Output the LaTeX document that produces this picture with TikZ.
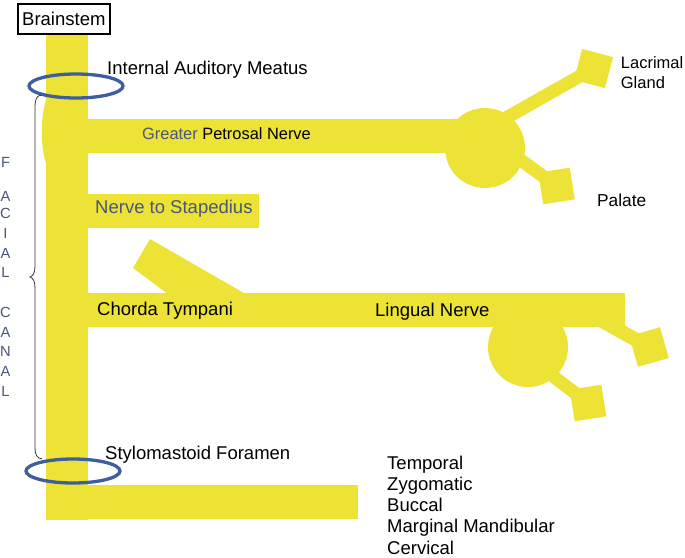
\documentclass[tikz,border=0pt]{standalone}
\usepackage{fontspec}
\setmainfont{Liberation Sans}
\definecolor{nerve}{HTML}{ECE336}
\definecolor{ring}{HTML}{3E5EA0}
\definecolor{slate}{HTML}{4A5677}
\begin{document}
\begin{tikzpicture}[x=1pt,y=-1pt,
  lbl/.style={anchor=base west,inner sep=0pt,font=\fontsize{18.5}{20}\selectfont},
  smalllbl/.style={anchor=base west,inner sep=0pt,font=\fontsize{16.4}{18}\selectfont},
  letter/.style={anchor=base,inner sep=0pt,text=slate,font=\fontsize{14.7}{16}\selectfont},
  gland/.style={rectangle,fill=nerve,draw=none,minimum size=32pt,inner sep=0pt},
  ganglion/.style={circle,fill=nerve,draw=none,minimum size=80pt,inner sep=0pt},
  twig/.style={draw=nerve,line width=13pt},
  foramen/.style={draw=ring,line width=3.3pt}]
\useasboundingbox (0,0) rectangle (685,557);
% trunk and bars
\fill[nerve] (46,34) rectangle (88,520);
\fill[nerve] (47,98) .. controls (40,115) and (40,148) .. (47,166) -- cycle;
\fill[nerve] (86,119) rectangle (486,153);
\fill[nerve] (86,194) rectangle (259,228);
\fill[nerve] (86,293) rectangle (625,327);
\fill[nerve] (86,485) rectangle (358,519);
\fill[nerve] (133,268) -- (150,239) -- (256,300) -- (176,300) -- cycle;
% ganglia and glands
\node[ganglion] (ppg) at (485,148) {};
\node[ganglion] (smg) at (528,347) {};
\node[gland,rotate=-15] (lac) at (593.5,68.5) {};
\node[gland,rotate=9] (pal) at (556.5,186) {};
\node[gland,rotate=16] (sl) at (649,347) {};
\node[gland,rotate=9] (sm) at (588,403) {};
\coordinate (lacS) at (490,127);
\coordinate (palS) at (500,145);
\coordinate (slS) at (595,317);
\coordinate (smS) at (532,360);
\draw[twig] (lacS) -- (lac.center);
\draw[twig] (palS) -- (pal.center);
\draw[twig,line width=14pt] (slS) -- (sl.center);
\draw[twig] (smS) -- (sm.center);
% foramina
\coordinate (iam) at (76,86);
\draw[foramen] (iam) ellipse [x radius=47,y radius=12];
\coordinate (smf) at (73,471);
\draw[foramen] (smf) ellipse [x radius=47,y radius=12];
% brace
\draw[line width=0.8pt,black!80] (41,95) .. controls (36,96) and (35,100) .. (35,108) -- (35,266) .. controls (35,273) and (33,276) .. (30,277) .. controls (33,278) and (35,281) .. (35,288) -- (35,448) .. controls (35,455) and (37,458) .. (42,459);
% brainstem box
\node[draw=black,line width=2pt,fill=white,minimum width=92pt,minimum height=30pt,inner sep=0pt] (bs) at (63.5,18.5) {};
\node[lbl] (bst) at (22,25) {Brainstem};
% labels
\node[lbl] (tiam) at (107,74.5) {Internal Auditory Meatus};
\node[smalllbl] (tgpn) at (142,139.3) {\textcolor{slate}{Greater} Petrosal Nerve};
\node[lbl,text=slate] (tns) at (95,213.3) {Nerve to Stapedius};
\node[lbl] (tct) at (97,315.7) {Chorda Tympani};
\node[lbl] (tln) at (375,316.7) {Lingual Nerve};
\node[lbl] (tsf) at (105,459.3) {Stylomastoid Foramen};
\node[anchor=base west,inner sep=0pt,font=\fontsize{16.5}{18}\selectfont] (tlac1) at (620.7,68.3) {Lacrimal};
\node[anchor=base west,inner sep=0pt,font=\fontsize{16.5}{18}\selectfont] (tlac2) at (620.7,88.3) {Gland};
\node[anchor=base west,inner sep=0pt,font=\fontsize{17.3}{19}\selectfont] (tpal) at (597,206.7) {Palate};
\node[lbl] (b1) at (387,469) {Temporal};
\node[lbl] (b2) at (387,490) {Zygomatic};
\node[lbl] (b3) at (387,511) {Buccal};
\node[lbl] (b4) at (387,532.7) {Marginal Mandibular};
\node[lbl] (b5) at (387,554) {Cervical};
% FACIAL CANAL
\node[letter] (l1) at (5.5,167) {F};
\node[letter] (l2) at (5.5,201) {A};
\node[letter] (l3) at (5.5,218) {C};
\node[letter] (l4) at (5.5,238) {I};
\node[letter] (l5) at (5.5,258) {A};
\node[letter] (l6) at (5.5,277) {L};
\node[letter] (l7) at (5.5,317) {C};
\node[letter] (l8) at (5.5,337) {A};
\node[letter] (l9) at (5.5,356) {N};
\node[letter] (l10) at (5.5,376) {A};
\node[letter] (l11) at (5.5,396) {L};
\end{tikzpicture}
\end{document}
